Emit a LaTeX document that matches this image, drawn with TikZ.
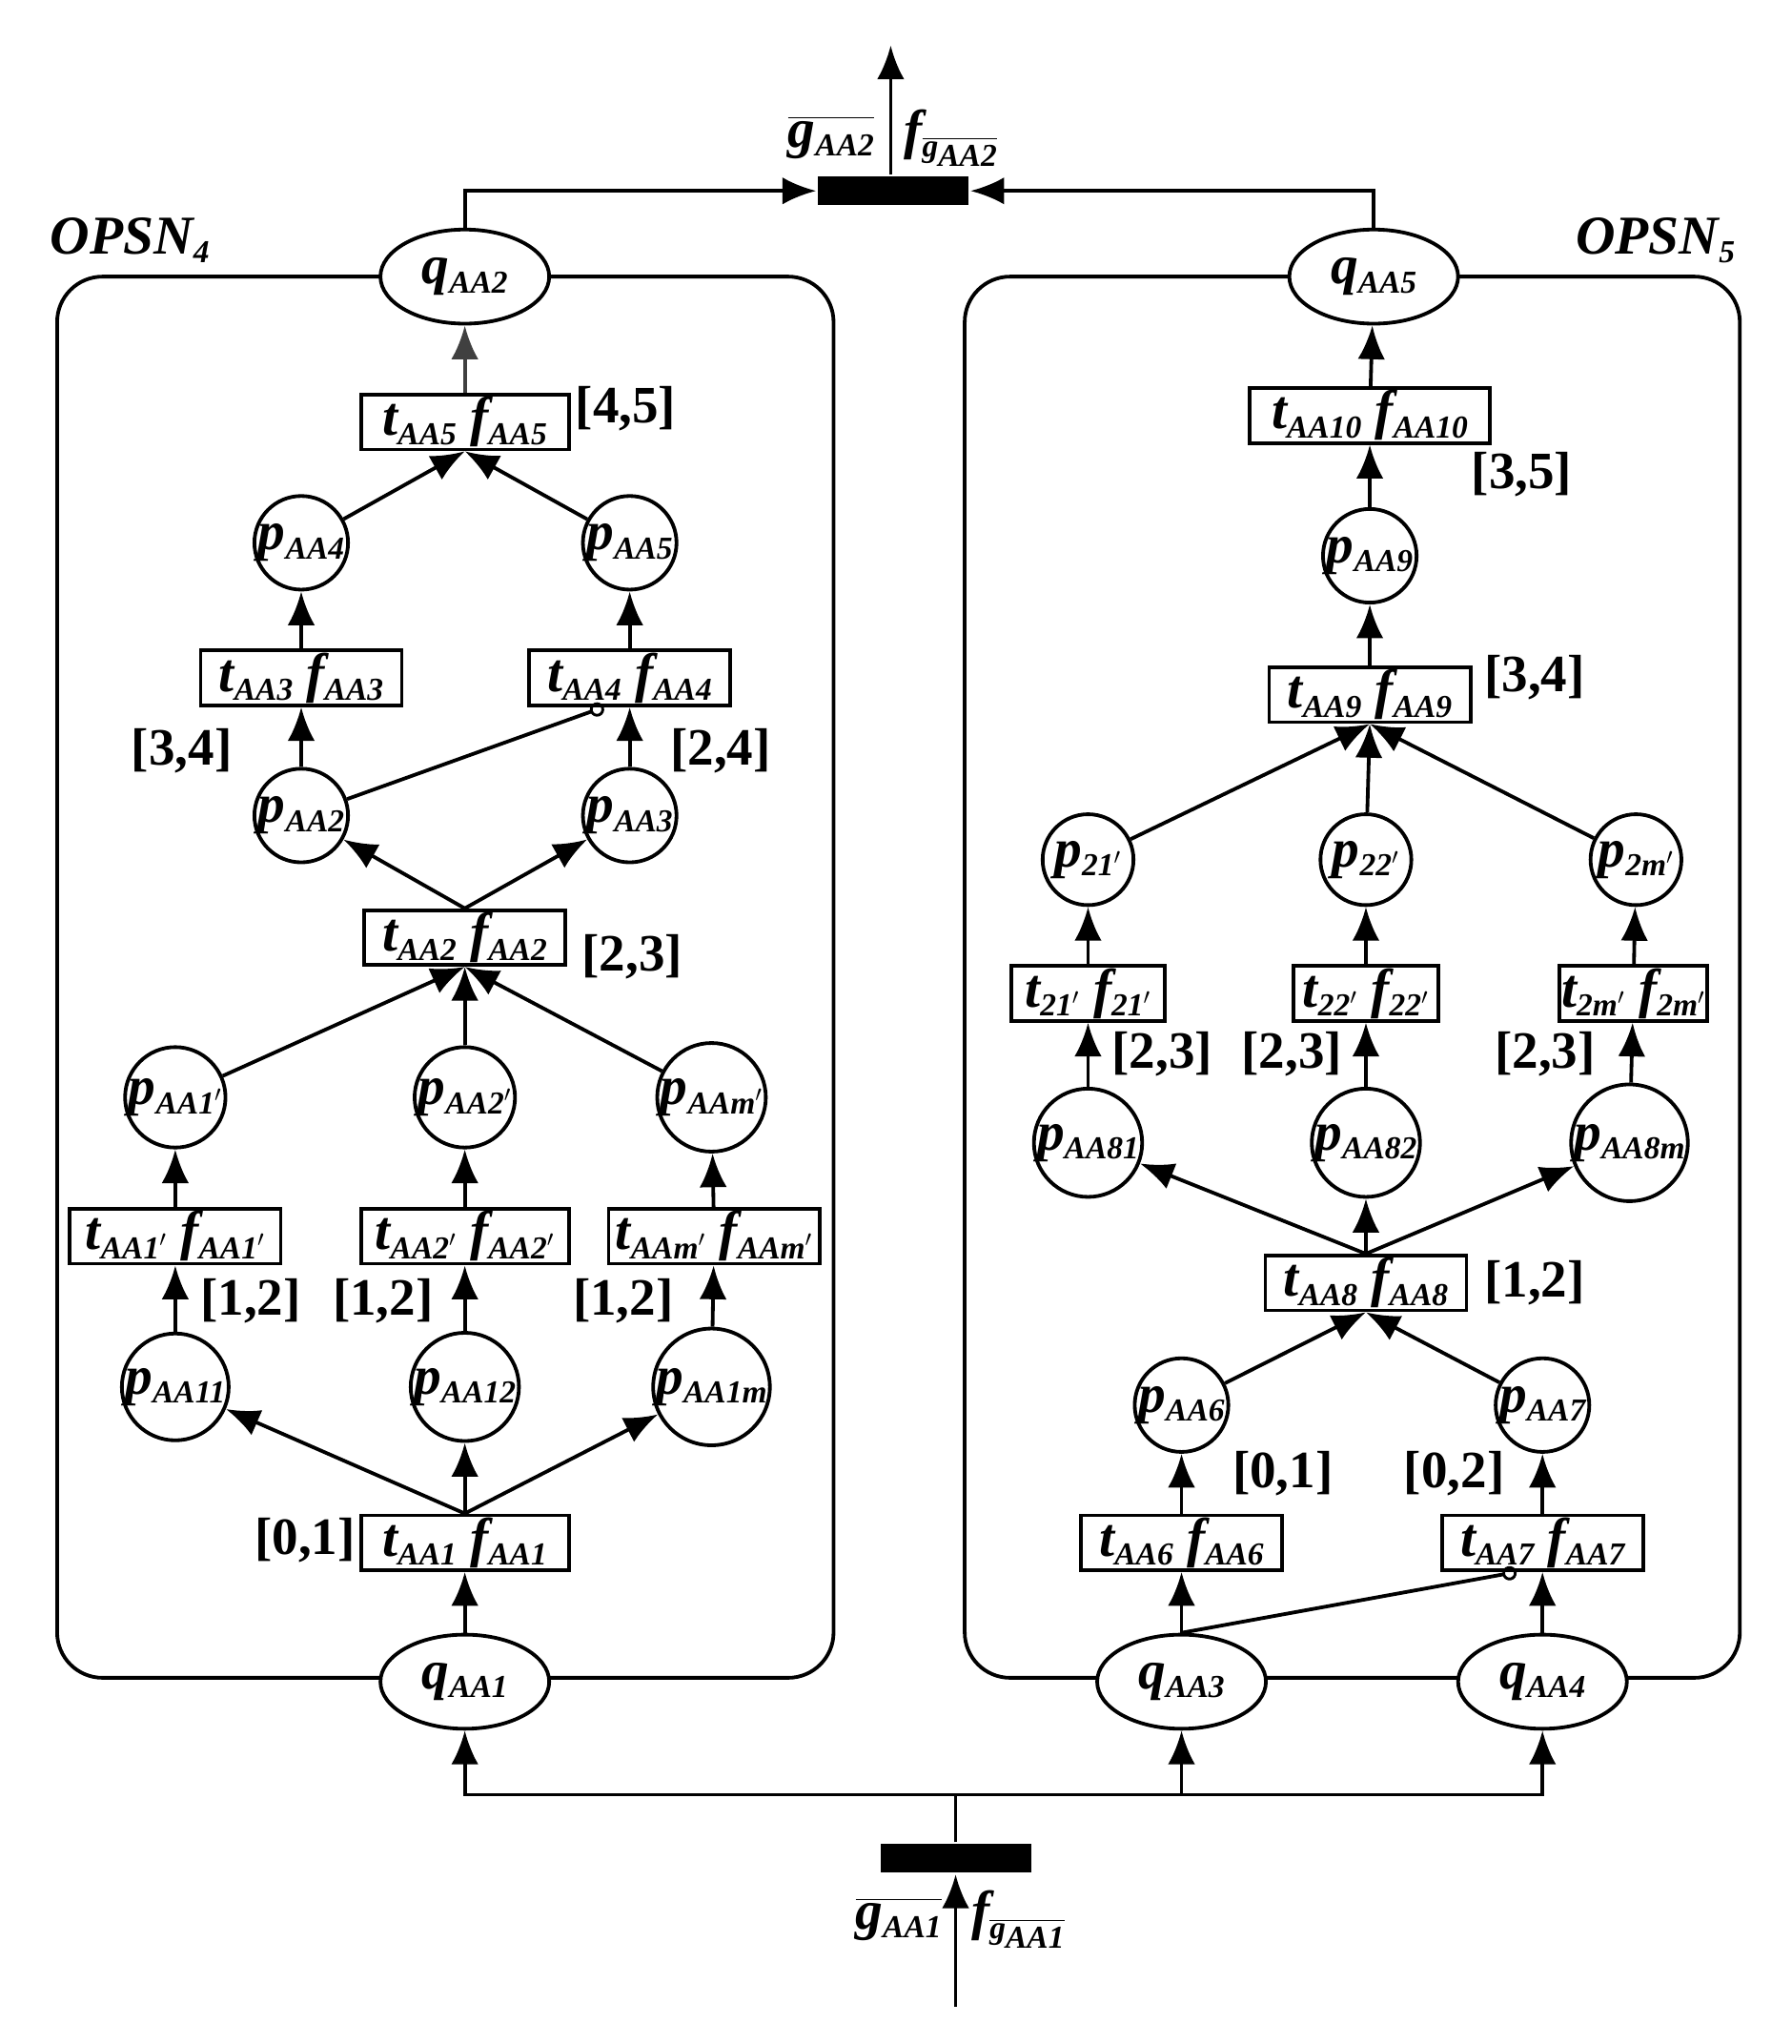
\documentclass[tikz,border=0pt]{standalone}
\usepackage{fontspec}
\setmainfont{Liberation Serif}
\usetikzlibrary{arrows.meta,shapes.geometric,calc}
\newcommand\subx[1]{{\fontsize{14}{14}\selectfont\raisebox{-4pt}{#1}}}
\newcommand\ovl[1]{$\overline{\hbox{#1}}$}
\begin{document}
\begin{tikzpicture}[x=0.02cm,y=-0.02cm,
  every node/.style={font=\fontsize{24}{27}\selectfont\bfseries\itshape},
  pl/.style={circle,draw,line width=1.6pt,fill=white,minimum size=1.4cm,inner sep=0pt},
  qq/.style={ellipse,draw,line width=1.6pt,fill=white,minimum width=2.6cm,minimum height=1.45cm,inner sep=0pt},
  tr/.style={rectangle,draw,line width=1.6pt,fill=white,minimum height=0.8cm,inner sep=1pt},
  bar/.style={rectangle,fill=black,minimum width=2.32cm,minimum height=0.44cm,inner sep=0pt},
  lab/.style={font=\fontsize{23}{26}\selectfont\bfseries},
  arr/.style={-{Latex[length=0.52cm,width=0.42cm]}},
  inh/.style={-{Circle[open,length=0.22cm,line width=1.2pt]}},
  line width=1.6pt]
\useasboundingbox (0,0) rectangle (1380,1574);

% boxes
\draw[rounded corners=0.7cm] (44,213) rectangle (642,1292);
\draw[rounded corners=0.7cm] (743,213) rectangle (1340,1292);
\node at (100,185) {OPSN\subx{4}};
\node at (1275,185) {OPSN\subx{5}};

% ---- left net ----
\node[qq] (qAA2) at (358,213) {q\subx{AA2}};
\node[tr,minimum width=3.2cm] (tAA5) at (358,325) {t\subx{AA5} f\subx{AA5}};
\node[lab] (l45) at (482,315) {[4,5]};
\node[pl] (pAA4) at (232,418) {p\subx{AA4}};
\node[pl] (pAA5) at (485,418) {p\subx{AA5}};
\node[tr,minimum width=3.1cm] (tAA3) at (232,522) {t\subx{AA3} f\subx{AA3}};
\node[tr,minimum width=3.1cm] (tAA4) at (485,522) {t\subx{AA4} f\subx{AA4}};
\node[lab] (l34a) at (140,578) {[3,4]};
\node[lab] (l24) at (555,578) {[2,4]};
\node[pl] (pAA2) at (232,628) {p\subx{AA2}};
\node[pl] (pAA3) at (485,628) {p\subx{AA3}};
\node[tr,minimum width=3.1cm] (tAA2) at (358,722) {t\subx{AA2} f\subx{AA2}};
\node[lab] (l23a) at (487,737) {[2,3]};
\node[pl] (pAA1p) at (135,845) {p\subx{AA1$'$}};
\node[pl] (pAA2p) at (358,845) {p\subx{AA2$'$}};
\node[pl] (pAAmp) at (548,845) {p\subx{AAm$'$}};
\node[tr,minimum width=3.25cm] (tAA1p) at (135,952) {t\subx{AA1$'$} f\subx{AA1$'$}};
\node[tr,minimum width=3.2cm] (tAA2p) at (358,952) {t\subx{AA2$'$} f\subx{AA2$'$}};
\node[tr,minimum width=3.25cm] (tAAmp) at (550,952) {t\subx{AAm$'$} f\subx{AAm$'$}};
\node[lab] (l12a) at (193,1002) {[1,2]};
\node[lab] (l12b) at (295,1002) {[1,2]};
\node[lab] (l12c) at (480,1002) {[1,2]};
\node[pl] (pAA11) at (135,1068) {p\subx{AA11}};
\node[pl] (pAA12) at (358,1068) {p\subx{AA12}};
\node[pl] (pAA1m) at (548,1068) {p\subx{AA1m}};
\node[tr,minimum width=3.2cm] (tAA1) at (358,1188) {t\subx{AA1} f\subx{AA1}};
\node[lab] (l01a) at (235,1186) {[0,1]};
\node[qq] (qAA1) at (358,1295) {q\subx{AA1}};

\draw[arr,black!75] (tAA5) -- (qAA2);
\draw[arr] (pAA4) -- (tAA5.south);
\draw[arr] (pAA5) -- (tAA5.south);
\draw[arr] (tAA3) -- (pAA4);
\draw[arr] (tAA4) -- (pAA5);
\draw[arr] (pAA2) -- (tAA3);
\draw[arr] (pAA3) -- (tAA4);
\coordinate (i4) at ($(tAA4.south)+(-20,0)$);
\draw[inh] (pAA2) -- (i4);
\draw[arr] (tAA2.north) -- (pAA2);
\draw[arr] (tAA2.north) -- (pAA3);
\draw[arr] (pAA1p) -- (tAA2.south);
\draw[arr] (pAA2p) -- (tAA2.south);
\draw[arr] (pAAmp) -- (tAA2.south);
\draw[arr] (tAA1p) -- (pAA1p);
\draw[arr] (tAA2p) -- (pAA2p);
\draw[arr] (tAAmp) -- (pAAmp);
\draw[arr] (pAA11) -- (tAA1p);
\draw[arr] (pAA12) -- (tAA2p);
\draw[arr] (pAA1m) -- (tAAmp);
\draw[arr] (tAA1.north) -- (pAA11);
\draw[arr] (tAA1.north) -- (pAA12);
\draw[arr] (tAA1.north) -- (pAA1m);
\draw[arr] (qAA1) -- (tAA1);

% ---- right net ----
\node[qq] (qAA5) at (1058,213) {q\subx{AA5}};
\node[tr,minimum width=3.7cm] (tAA10) at (1055,320) {t\subx{AA10} f\subx{AA10}};
\node[lab] (l35) at (1172,365) {[3,5]};
\node[pl] (pAA9) at (1055,428) {p\subx{AA9}};
\node[tr,minimum width=3.1cm] (tAA9) at (1055,535) {t\subx{AA9} f\subx{AA9}};
\node[lab] (l34b) at (1182,522) {[3,4]};
\node[pl] (p21) at (838,662) {p\subx{21$'$}};
\node[pl] (p22) at (1052,662) {p\subx{22$'$}};
\node[pl] (p2m) at (1260,662) {p\subx{2m$'$}};
\node[tr,minimum width=2.36cm] (t21) at (838,765) {t\subx{21$'$} f\subx{21$'$}};
\node[tr,minimum width=2.24cm] (t22) at (1052,765) {t\subx{22$'$} f\subx{22$'$}};
\node[tr,minimum width=2.24cm] (t2m) at (1258,765) {t\subx{2m$'$} f\subx{2m$'$}};
\node[lab] (l23b) at (895,812) {[2,3]};
\node[lab] (l23c) at (995,812) {[2,3]};
\node[lab] (l23d) at (1190,812) {[2,3]};
\node[pl] (pAA81) at (838,880) {p\subx{AA81}};
\node[pl] (pAA82) at (1052,880) {p\subx{AA82}};
\node[pl] (pAA8m) at (1255,880) {p\subx{AA8m}};
\node[tr,minimum width=3.1cm] (tAA8) at (1052,988) {t\subx{AA8} f\subx{AA8}};
\node[lab] (l12d) at (1182,988) {[1,2]};
\node[pl] (pAA6) at (910,1082) {p\subx{AA6}};
\node[pl] (pAA7) at (1188,1082) {p\subx{AA7}};
\node[lab] (l01b) at (988,1135) {[0,1]};
\node[lab] (l02) at (1120,1135) {[0,2]};
\node[tr,minimum width=3.1cm] (tAA6) at (910,1188) {t\subx{AA6} f\subx{AA6}};
\node[tr,minimum width=3.1cm] (tAA7) at (1188,1188) {t\subx{AA7} f\subx{AA7}};
\node[qq] (qAA3) at (910,1295) {q\subx{AA3}};
\node[qq] (qAA4) at (1188,1295) {q\subx{AA4}};

\draw[arr] (tAA10) -- (qAA5);
\draw[arr] (pAA9) -- (tAA10);
\draw[arr] (tAA9) -- (pAA9);
\draw[arr] (p21) -- (tAA9.south);
\draw[arr] (p22) -- (tAA9.south);
\draw[arr] (p2m) -- (tAA9.south);
\draw[arr] (t21) -- (p21);
\draw[arr] (t22) -- (p22);
\draw[arr] (t2m) -- (p2m);
\draw[arr] (pAA81) -- (t21);
\draw[arr] (pAA82) -- (t22);
\draw[arr] (pAA8m) -- (t2m);
\draw[arr] (tAA8.north) -- (pAA81);
\draw[arr] (tAA8.north) -- (pAA82);
\draw[arr] (tAA8.north) -- (pAA8m);
\draw[arr] (pAA6) -- (tAA8.south);
\draw[arr] (pAA7) -- (tAA8.south);
\draw[arr] (tAA6) -- (pAA6);
\draw[arr] (tAA7) -- (pAA7);
\draw[arr] (qAA3) -- (tAA6);
\draw[arr] (qAA4) -- (tAA7);
\coordinate (i7) at ($(tAA7.south)+(-20,0)$);
\draw[inh] (qAA3.north) -- (i7);

% ---- top output transition ----
\node[bar] (bar2) at (688,147) {};
\coordinate (out) at (686,35);
\draw[arr] (bar2.north -| out) -- (out);
\draw[arr] (qAA2.north) |- (bar2.west);
\draw[arr] (qAA5.north) |- (bar2.east);
\node (g2) at (640,106) {\ovl{g\subx{AA2}}};
\node (f2) at (732,106) {f\subx{\ovl{g\subx{AA2}}}};

% ---- bottom input transition ----
\node[bar] (bar1) at (736,1431) {};
\coordinate (in) at (736,1545);
\coordinate (j) at (736,1382);
\draw[arr] (in) -- (bar1.south);
\draw (bar1.north) -- (j);
\draw[arr] (j) -| (qAA1.south);
\draw[arr] (j) -| (qAA3.south);
\draw[arr] (j) -| (qAA4.south);
\node (g1) at (692,1478) {\ovl{g\subx{AA1}}};
\node (f1) at (784,1478) {f\subx{\ovl{g\subx{AA1}}}};
\end{tikzpicture}
\end{document}
